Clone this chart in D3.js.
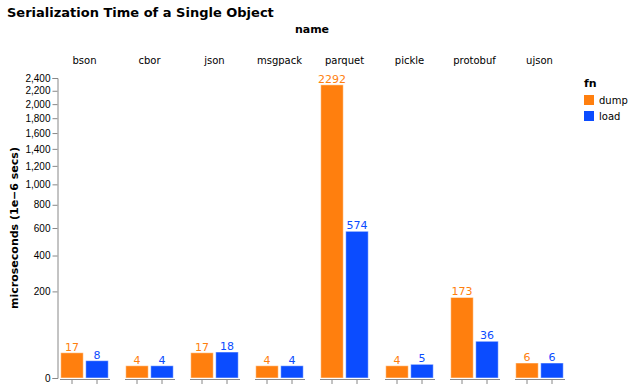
<!DOCTYPE html>
<html>
<head>
<meta charset="utf-8">
<script src="https://cdn.jsdelivr.net/npm/d3@7"></script>
<style>
body{margin:0;background:#fff;}
svg{font-family:"DejaVu Sans",sans-serif;}
.axis path,.axis line{stroke:#888;}
.axis text{fill:#000;font-size:10px;}
</style>
</head>
<body>
<svg></svg>
<script>
var names = ["bson","cbor","json","msgpack","parquet","pickle","protobuf","ujson"];
var fns = ["dump","load"];
var dumpValues = [17,4,17,4,2292,4,173,6];
var loadValues = [8,4,18,4,574,5,36,6];
var yTicks = [0,200,400,600,800,1000,1200,1400,1600,1800,2000,2200,2400];
var colors = ["#ff7f0e","#0b4cff"];

var screen = {width:633,height:391}
var margins = {left:59.5,top:78}
var cell = {width:50,height:300,step:65}

var svg = d3.select("svg")
    .attr("width",screen.width)
    .attr("height",screen.height)

var yScale = d3.scaleSqrt()
    .domain([0,2400])
    .range([cell.height,0])

var xScale = d3.scaleBand()
    .domain(fns)
    .range([0,cell.width])
    .paddingInner(0.1)
    .paddingOuter(0.05)

var colorScale = d3.scaleOrdinal()
    .domain(fns)
    .range(colors)

// title
svg.append("text")
    .text("Serialization Time of a Single Object")
    .attr("x",7)
    .attr("y",17)
    .attr("font-size","13px")
    .attr("font-weight","bold")

svg.append("text")
    .text("name")
    .attr("x",margins.left+(names.length-1)*cell.step/2+cell.width/2)
    .attr("y",33)
    .attr("text-anchor","middle")
    .attr("font-size","11px")
    .attr("font-weight","bold")

// y axis
var yAxis = d3.axisLeft(yScale)
    .tickValues(yTicks)
    .tickFormat(d3.format(","))
    .tickSize(5)
    .tickPadding(2)

svg.append("g")
    .classed("axis",true)
    .attr("transform","translate("+(margins.left-2)+","+margins.top+")")
    .call(yAxis)

svg.append("g")
    .attr("transform","translate(18,"+(margins.top+cell.height/2)+")")
    .append("text")
    .text("microseconds (1e\u22126 secs)")
    .attr("text-anchor","middle")
    .attr("transform","rotate(-90)")
    .attr("font-size","11px")
    .attr("font-weight","bold")

// facets
var data = names.map(function(n,i){
    return {name:n,values:[{fn:"dump",v:dumpValues[i]},{fn:"load",v:loadValues[i]}]}
})

var cells = svg.selectAll("g.cell")
    .data(data)
    .enter()
    .append("g")
    .classed("cell",true)
    .attr("transform",function(d,i){
        return "translate("+(margins.left+i*cell.step)+","+margins.top+")"})

cells.append("text")
    .text(function(d){return d.name})
    .attr("x",cell.width/2)
    .attr("y",-14)
    .attr("text-anchor","middle")
    .attr("font-size","10px")

var xAxis = d3.axisBottom(xScale)
    .tickSize(5)
    .tickFormat("")
    .tickSizeOuter(0)

cells.append("g")
    .classed("axis",true)
    .attr("transform","translate(0,"+(cell.height+1)+")")
    .call(xAxis)

cells.selectAll("rect")
    .data(function(d){return d.values})
    .enter()
    .append("rect")
    .attr("x",function(d){return xScale(d.fn)})
    .attr("width",xScale.bandwidth())
    .attr("y",function(d){return yScale(d.v)})
    .attr("height",function(d){return cell.height-yScale(d.v)})
    .attr("fill",function(d){return colorScale(d.fn)})
    .attr("stroke","#fff")
    .attr("stroke-opacity",0.5)

cells.selectAll("text.lbl")
    .data(function(d){return d.values})
    .enter()
    .append("text")
    .classed("lbl",true)
    .text(function(d){return d.v})
    .attr("x",function(d){return xScale(d.fn)+xScale.bandwidth()/2})
    .attr("y",function(d){return yScale(d.v)-2})
    .attr("text-anchor","middle")
    .attr("font-size","11px")
    .attr("fill",function(d){return colorScale(d.fn)})

// legend
var legend = svg.append("g")
    .attr("transform","translate(584,78)")

legend.append("text")
    .text("fn")
    .attr("x",0)
    .attr("y",9)
    .attr("font-size","11px")
    .attr("font-weight","bold")

var items = legend.selectAll("g.item")
    .data(fns)
    .enter()
    .append("g")
    .attr("transform",function(d,i){return "translate(0,"+(17+i*16)+")"})

items.append("rect")
    .attr("width",10)
    .attr("height",10)
    .attr("fill",function(d){return colorScale(d)})

items.append("text")
    .text(function(d){return d})
    .attr("x",15)
    .attr("y",9)
    .attr("font-size","10px")
</script>
</body>
</html>
